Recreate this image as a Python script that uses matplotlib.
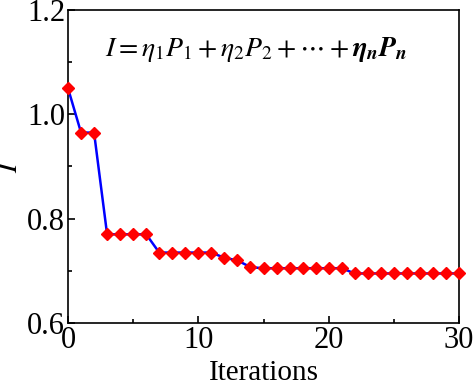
import matplotlib
matplotlib.use("Agg")
import matplotlib.pyplot as plt
from matplotlib.ticker import MultipleLocator

plt.rcParams['font.family'] = ['Liberation Serif']
plt.rcParams['mathtext.fontset'] = 'stix'

iterations = list(range(31))
I_values = [1.05, 0.965, 0.965, 0.77, 0.77, 0.77, 0.77,
            0.735, 0.735, 0.735, 0.735, 0.735, 0.725, 0.72, 0.707,
            0.705, 0.705, 0.705, 0.705, 0.705, 0.705, 0.705,
            0.695, 0.695, 0.695, 0.695, 0.695, 0.695, 0.695, 0.695, 0.695]

fig = plt.figure(figsize=(4.74, 3.82), dpi=100)
ax = fig.add_axes([68/474, 1-323/382, (459-68)/474, (323-10)/382])
ax.plot(iterations, I_values, color='#0000ff', lw=1.8, marker='D', ms=6.5,
        mfc='#ff0000', mec='#ff0000', clip_on=False, zorder=3)
ax.set_xlim(0, 30)
ax.set_ylim(0.6, 1.2)
ax.xaxis.set_major_locator(MultipleLocator(10))
ax.xaxis.set_minor_locator(MultipleLocator(5))
ax.yaxis.set_major_locator(MultipleLocator(0.2))
ax.yaxis.set_minor_locator(MultipleLocator(0.1))
ax.tick_params(which='both', direction='in', labelsize=22, width=1.2, pad=2)
ax.tick_params(which='major', length=5)
ax.tick_params(which='minor', length=3)
for s in ax.spines.values():
    s.set_linewidth(1.2)
ax.set_xlabel('Iterations', fontsize=21, labelpad=4)
ax.set_ylabel(r'$I$', fontsize=22, labelpad=2)
ax.text(0.48, 0.875,
        r'$I=\eta_1P_1+\eta_2P_2+\cdots+\boldsymbol{\eta}_{\boldsymbol{n}}\boldsymbol{P}_{\boldsymbol{n}}$',
        transform=ax.transAxes, ha='center', va='center', fontsize=20)
fig.savefig('out.png', dpi=100)
